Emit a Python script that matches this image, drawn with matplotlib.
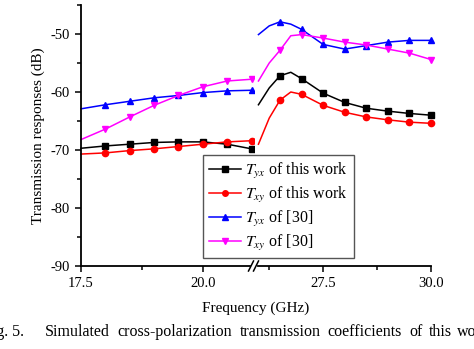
import matplotlib
matplotlib.use("Agg")
import matplotlib.pyplot as plt
from matplotlib.lines import Line2D

# frequency points (GHz), low band and high band
f_low = [17.5, 18.0, 18.5, 19.0, 19.5, 20.0, 20.5, 21.0]
f_high = [26.0, 26.25, 26.5, 26.75, 27.0, 27.5, 28.0, 28.5, 29.0, 29.5, 30.0]

# transmission responses (dB)
tyx_low = [-69.7, -69.3, -69.0, -68.7, -68.6, -68.6, -69.0, -69.8]
txy_low = [-70.7, -70.5, -70.1, -69.8, -69.4, -69.0, -68.6, -68.4]
tyx30_low = [-62.9, -62.2, -61.6, -61.0, -60.6, -60.1, -59.8, -59.7]
txy30_low = [-68.2, -66.4, -64.3, -62.3, -60.6, -59.1, -58.1, -57.8]

tyx_high = [-62.2, -59.3, -57.2, -56.6, -57.7, -60.2, -61.8, -62.8, -63.3, -63.7, -64.0]
txy_high = [-69.0, -64.5, -61.4, -60.0, -60.4, -62.3, -63.5, -64.3, -64.8, -65.2, -65.4]
tyx30_high = [-50.1, -48.6, -47.9, -48.3, -49.2, -51.8, -52.6, -52.0, -51.4, -51.1, -51.1]
txy30_high = [-58.1, -55.0, -52.8, -50.3, -50.1, -50.7, -51.4, -51.9, -52.6, -53.3, -54.4]

labels = [r"$T_{yx}$ of this work", r"$T_{xy}$ of this work",
          r"$T_{yx}$ of [30]", r"$T_{xy}$ of [30]"]

# caption words and their left edges (px), the caption is justified
caption_words = ["Simulated", "cross-polarization", "transmission",
                 "coefficients", "of", "this", "work."]
caption_x = [45, 117, 240, 327, 409, 429, 457]

plt.rcParams["font.family"] = ["Liberation Serif", "DejaVu Serif"]
plt.rcParams["mathtext.fontset"] = "stix"
plt.rcParams["axes.unicode_minus"] = False

fig = plt.figure(figsize=(4.74, 3.49), dpi=100)
W, H = 474, 349
ax1 = fig.add_axes([81 / W, 83 / H, 174 / W, 261 / H])
ax2 = fig.add_axes([255 / W, 83 / H, 176 / W, 261 / H], sharey=ax1)

styles = [("black", "s"), ("red", "o"), ("blue", "^"), ("magenta", "v")]
low = [tyx_low, txy_low, tyx30_low, txy30_low]
high = [tyx_high, txy_high, tyx30_high, txy30_high]
mark_low = list(range(1, len(f_low)))
mark_high = [2] + list(range(4, len(f_high)))

handles = []
for (c, m), yl, yh, lab in zip(styles, low, high, labels):
    ax1.plot(f_low, yl, color=c, marker=m, markersize=4.5, lw=1.1,
             markevery=mark_low, clip_on=False)
    ax2.plot(f_high, yh, color=c, marker=m, markersize=4.5, lw=1.1,
             markevery=mark_high, clip_on=False)
    handles.append(Line2D([], [], color=c, marker=m, markersize=4, lw=1.1, label=lab))

ax1.set_xlim(17.5, 21.07)
ax2.set_xlim(25.92, 30.0)
ax1.set_ylim(-90, -45)
ax1.set_yticks([-90, -80, -70, -60, -50])
ax1.set_yticks([-85, -75, -65, -55, -45], minor=True)
ax1.set_xticks([17.5, 20.0])
ax1.set_xticks([18.75], minor=True)
ax2.set_xticks([27.5, 30.0])
ax2.set_xticks([26.25, 28.75], minor=True)
ax1.set_xticklabels(["17.5", "20.0"])
ax2.set_xticklabels(["27.5", "30.0"])

for ax in (ax1, ax2):
    ax.spines["top"].set_visible(False)
    ax.spines["right"].set_visible(False)
    for s in ax.spines.values():
        s.set_linewidth(1.3)
    ax.tick_params(which="major", direction="out", length=4.5, width=1.1, labelsize=10.5)
    ax.tick_params(which="minor", direction="out", length=3, width=1.1)
ax2.spines["left"].set_visible(False)
ax2.tick_params(axis="y", which="both", left=False, labelleft=False)
ax1.spines["bottom"].set_bounds(17.5, 20.97)
ax2.spines["bottom"].set_bounds(26.0, 30.0)

# axis break marks
yb = 1 - 266 / H
for xb in (251, 256):
    fig.add_artist(Line2D([(xb - 2.5) / W, (xb + 2.5) / W], [yb - 5 / H, yb + 5 / H],
                          color="black", lw=1.1))

ax1.set_ylabel("Transmission responses (dB)", fontsize=11)
fig.text(256 / W, 1 - 308 / H, "Frequency (GHz)", ha="center", va="center", fontsize=11)

fig.legend(handles=handles, loc="upper left",
           bbox_to_anchor=(203 / W, 1 - 155 / H), borderaxespad=0, fontsize=11.5,
           frameon=True, fancybox=False, edgecolor="#555555", framealpha=1,
           handlelength=2.0, borderpad=0.35, labelspacing=0.25, handletextpad=0.3)

fig.text(24 / W, 1 - 332 / H, "Fig. 5.", ha="right", va="center", fontsize=11.5)
for word, xw in zip(caption_words, caption_x):
    fig.text(xw / W, 1 - 332 / H, word, ha="left", va="center", fontsize=11.5)

fig.savefig("out.png", dpi=100)
